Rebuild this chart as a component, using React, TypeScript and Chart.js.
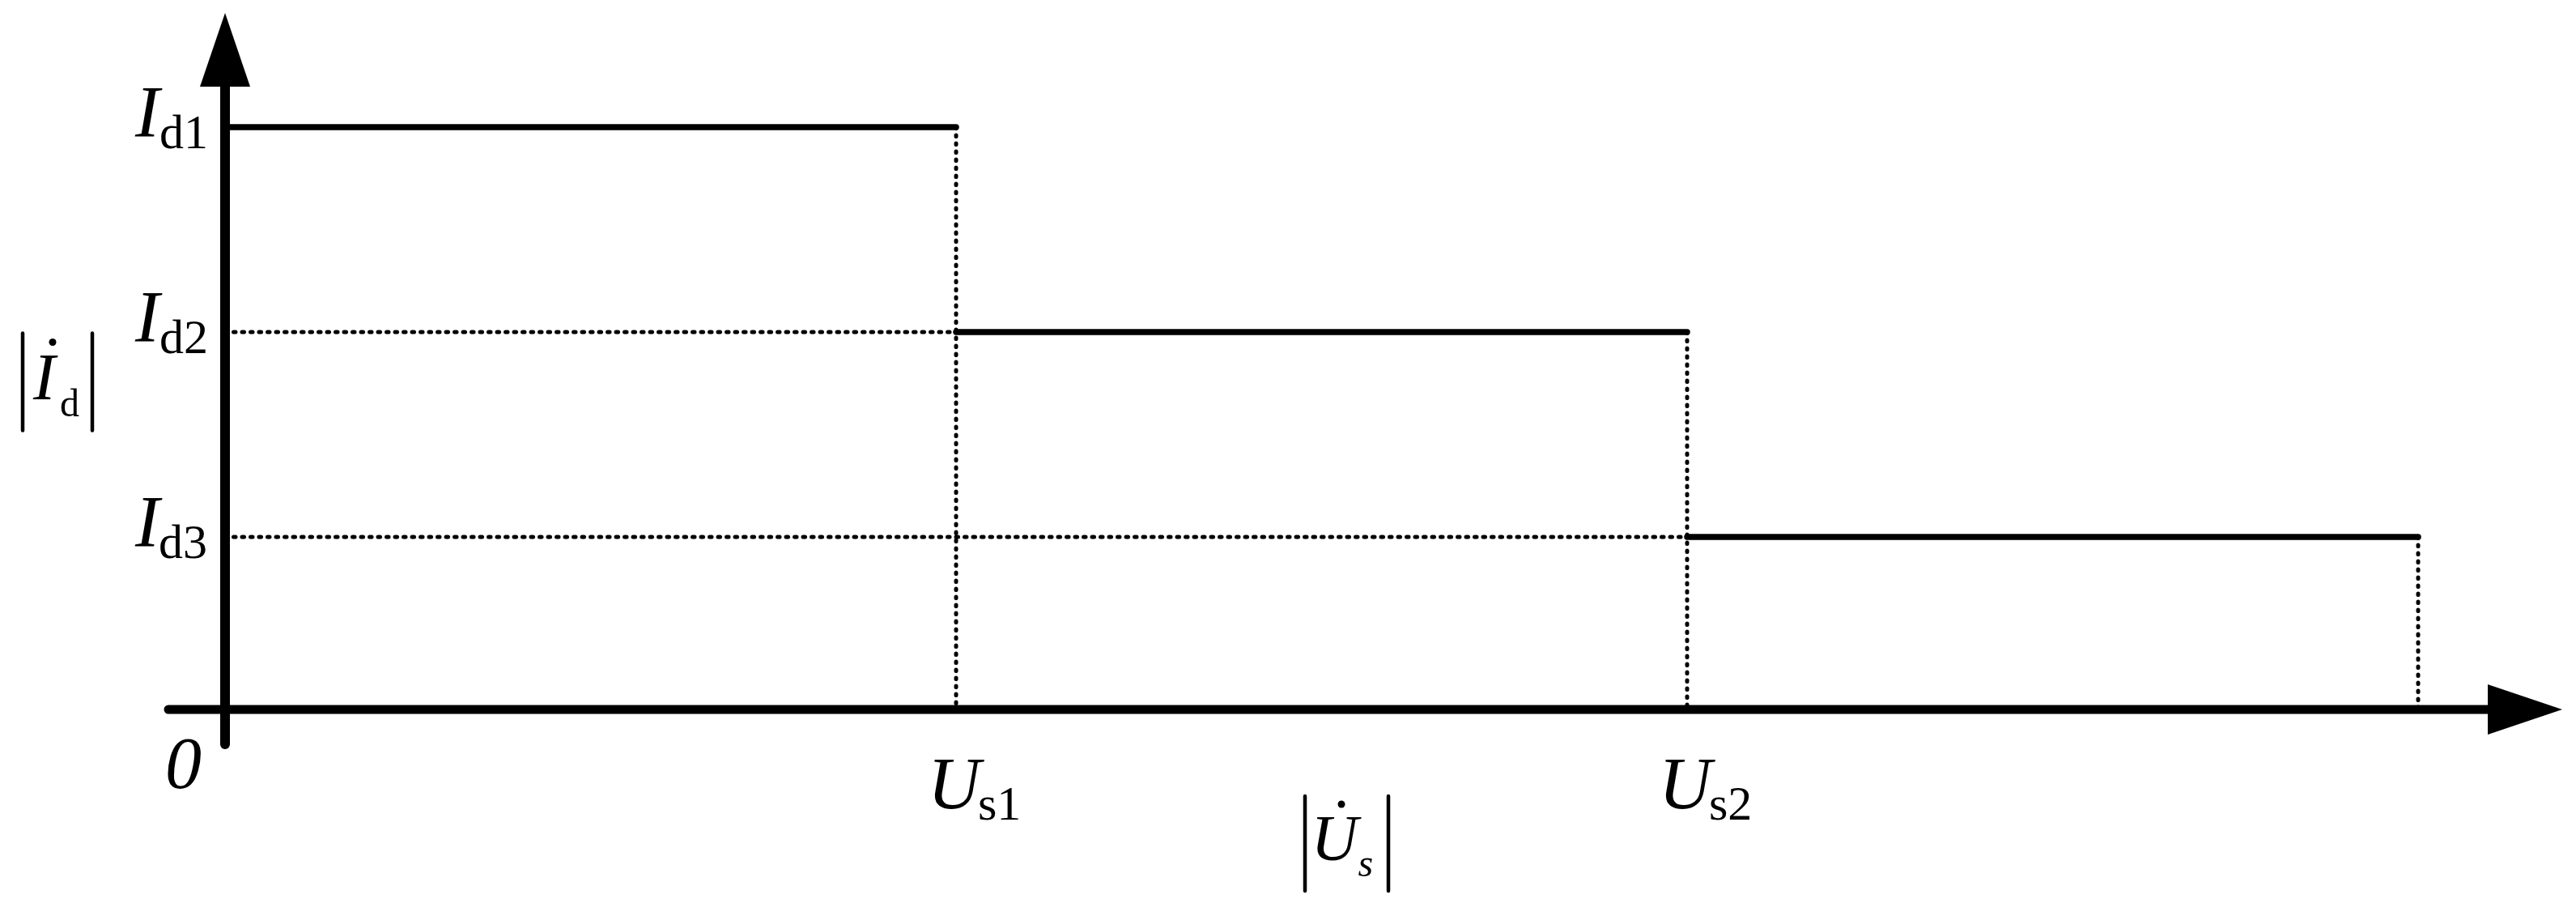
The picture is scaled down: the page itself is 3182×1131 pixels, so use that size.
import React, { useEffect, useRef } from "react";
import { Chart, registerables } from "chart.js";

Chart.register(...registerables);

const W = 3182;
const H = 1131;

// ---- data ----
const uBreaks = [0, 9.03, 18.06, 27.09]; // origin, Us1, Us2, end of last step
const dLevels = [7.19, 4.66, 2.13]; // Id1, Id2, Id3
const yTickMain = ["I", "I", "I"];
const yTickSub = ["d1", "d2", "d3"];
const xTickMain = ["U", "U"];
const xTickSub = ["s1", "s2"];
const originLabel = "0";
const xTitleMain = "U";
const xTitleSub = "s";
const yTitleMain = "I";
const yTitleSub = "d";

// axis geometry in data units
const axisXExtent = [-0.7, 27.95];
const axisYExtent = [-0.43, 7.69];
const arrowXExtent = [27.95, 28.87];
const arrowYExtent = [7.69, 8.6];

const SERIF = "'Liberation Serif', 'Times New Roman', serif";

function drawInk(
  ctx: CanvasRenderingContext2D,
  text: string,
  font: string,
  inkEdge: number,
  baseline: number,
  align: "left" | "right"
) {
  ctx.font = font;
  ctx.textAlign = "left";
  ctx.textBaseline = "alphabetic";
  const m = ctx.measureText(text);
  let x: number;
  if (align === "left") x = inkEdge + m.actualBoundingBoxLeft;
  else x = inkEdge - m.actualBoundingBoxRight;
  ctx.fillText(text, x, baseline);
  return { left: x - m.actualBoundingBoxLeft, right: x + m.actualBoundingBoxRight };
}

function bar(ctx: CanvasRenderingContext2D, x: number, y0: number, y1: number) {
  ctx.beginPath();
  ctx.moveTo(x, y0);
  ctx.lineTo(x, y1);
  ctx.stroke();
}

const overlayPlugin = {
  id: "overlay",
  afterDatasetsDraw(chart: any) {
    const ctx: CanvasRenderingContext2D = chart.ctx;
    const xs = chart.scales.x;
    const ys = chart.scales.y;
    const px = (v: number) => xs.getPixelForValue(v);
    const py = (v: number) => ys.getPixelForValue(v);
    const area = chart.chartArea;
    ctx.save();
    ctx.fillStyle = "#000";
    ctx.strokeStyle = "#000";

    // arrow heads
    const ax = px(0);
    ctx.beginPath();
    ctx.moveTo(ax, py(arrowYExtent[1]));
    ctx.lineTo(ax - 31, py(arrowYExtent[0]));
    ctx.lineTo(ax + 31, py(arrowYExtent[0]));
    ctx.closePath();
    ctx.fill();

    const ay = py(0);
    ctx.beginPath();
    ctx.moveTo(px(arrowXExtent[1]), ay);
    ctx.lineTo(px(arrowXExtent[0]), ay - 31);
    ctx.lineTo(px(arrowXExtent[0]), ay + 31);
    ctx.closePath();
    ctx.fill();

    // y tick labels (I_d1 ...)
    const mainFont = `italic 90px ${SERIF}`;
    const subFont = `60px ${SERIF}`;
    dLevels.forEach((v, i) => {
      const y = py(v);
      drawInk(ctx, yTickSub[i], subFont, ax - 24, y + 26, "right");
      drawInk(ctx, yTickMain[i], mainFont, ax - 112, y + 12, "left");
    });

    // x tick labels (U_s1 ...)
    xTickMain.forEach((t, i) => {
      const x = px(uBreaks[i + 1]);
      const l = x - 27;
      drawInk(ctx, t, mainFont, l, ay + 122, "left");
      drawInk(ctx, xTickSub[i], subFont, l + 56, ay + 136, "left");
    });

    // origin
    drawInk(ctx, originLabel, mainFont, ax - 30, ay + 97, "right");

    // y title |İ_d|
    ctx.lineWidth = 4.5;
    ctx.lineCap = "round";
    const yl = area.left - 170;
    const ycen = (area.top + area.bottom) / 2 - 2;
    bar(ctx, yl, ycen - 60, ycen + 60);
    bar(ctx, yl + 86, ycen - 60, ycen + 60);
    drawInk(ctx, yTitleMain, `italic 82px ${SERIF}`, yl + 12, ycen + 21, "left");
    drawInk(ctx, yTitleSub, `48px ${SERIF}`, yl + 47, ycen + 42, "left");
    ctx.beginPath();
    ctx.arc(yl + 37, ycen - 49, 4.5, 0, Math.PI * 2);
    ctx.fill();

    // x title |U̇_s|
    const xc = (area.left + area.right) / 2 - 19.5;
    const xt = ay + 107;
    bar(ctx, xc - 51.5, xt, xt + 117);
    bar(ctx, xc + 51.5, xt, xt + 117);
    drawInk(ctx, xTitleMain, `italic 80px ${SERIF}`, xc - 37, xt + 79, "left");
    drawInk(ctx, xTitleSub, `italic 48px ${SERIF}`, xc + 14, xt + 99, "left");
    ctx.beginPath();
    ctx.arc(xc - 6.5, xt + 10, 4.5, 0, Math.PI * 2);
    ctx.fill();

    ctx.restore();
  },
};

export default function App() {
  const ref = useRef<HTMLCanvasElement | null>(null);

  useEffect(() => {
    if (!ref.current) return;
    const base = {
      borderColor: "#000",
      pointRadius: 0,
      fill: false,
      tension: 0,
      clip: false as any,
    };
    const datasets: any[] = [];
    // axes
    datasets.push({
      ...base,
      data: [
        { x: axisXExtent[0], y: 0 },
        { x: axisXExtent[1], y: 0 },
      ],
      borderWidth: 11,
      borderCapStyle: "round",
    });
    datasets.push({
      ...base,
      data: [
        { x: 0, y: axisYExtent[0] },
        { x: 0, y: axisYExtent[1] },
      ],
      borderWidth: 12,
      borderCapStyle: "round",
    });
    // steps
    dLevels.forEach((v, i) => {
      datasets.push({
        ...base,
        data: [
          { x: uBreaks[i], y: v },
          { x: uBreaks[i + 1], y: v },
        ],
        borderWidth: 7.5,
        borderCapStyle: "round",
      });
    });
    // dotted verticals
    dLevels.forEach((v, i) => {
      datasets.push({
        ...base,
        data: [
          { x: uBreaks[i + 1], y: v },
          { x: uBreaks[i + 1], y: 0 },
        ],
        borderWidth: 5,
        borderDash: [1.5, 8.5],
        borderCapStyle: "round",
      });
    });
    // dotted horizontals
    dLevels.forEach((v, i) => {
      if (i === 0) return;
      datasets.push({
        ...base,
        data: [
          { x: 0, y: v },
          { x: uBreaks[i], y: v },
        ],
        borderWidth: 5,
        borderDash: [2.5, 8],
        borderCapStyle: "round",
      });
    });

    const chart = new Chart(ref.current, {
      type: "line",
      data: { datasets },
      options: {
        animation: false,
        responsive: false,
        maintainAspectRatio: false,
        devicePixelRatio: 1,
        events: [],
        layout: { padding: { left: 198, right: 14, top: 11, bottom: 195 } },
        plugins: {
          legend: { display: false },
          tooltip: { enabled: false },
          title: { display: false },
        },
        scales: {
          x: { type: "linear", min: -0.8, max: 28.9, display: false },
          y: { type: "linear", min: -0.6, max: 8.65, display: false },
        },
      },
      plugins: [overlayPlugin],
    });
    return () => chart.destroy();
  }, []);

  return (
    <div style={{ position: "absolute", left: 0, top: 0, width: W, height: H, background: "#fff" }}>
      <canvas ref={ref} width={W} height={H} style={{ display: "block", width: W, height: H }} />
    </div>
  );
}
